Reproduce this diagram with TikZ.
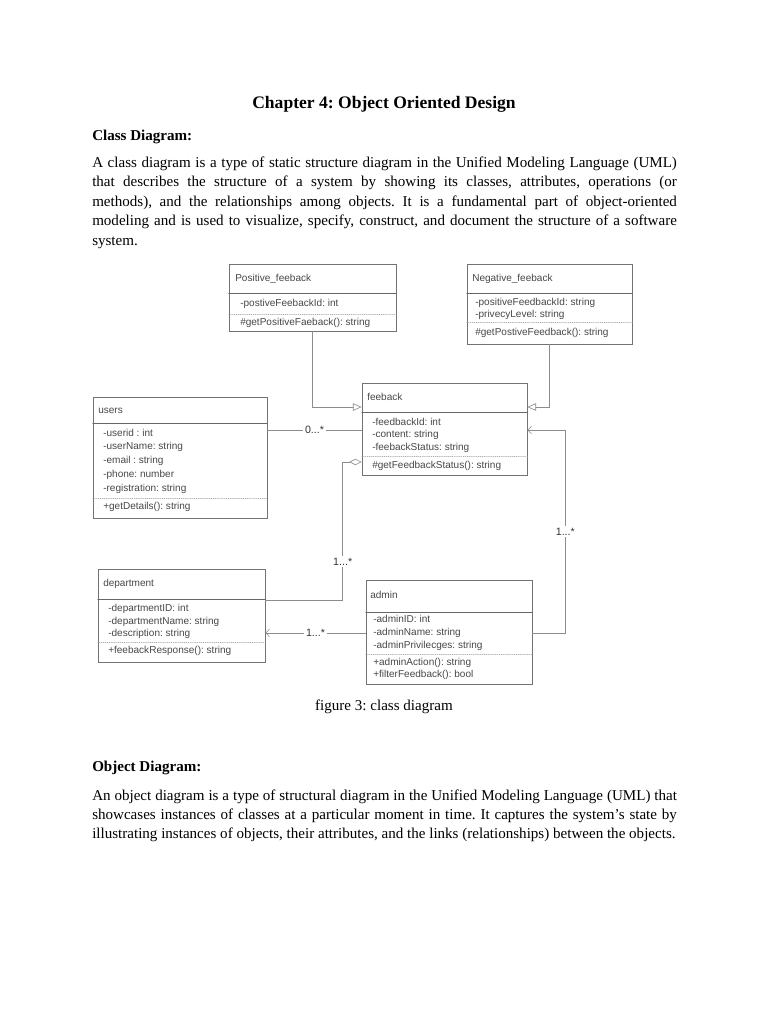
\documentclass[tikz,border=0pt]{standalone}
\usepackage{fontspec}
\setmainfont{Liberation Serif}
\newfontfamily\umlfont{Liberation Sans}
\usetikzlibrary{arrows.meta,fit}
\newcommand\fullline[1]{\makebox[466pt][s]{#1}}
\frenchspacing

\begin{document}
\begin{tikzpicture}[x=0.797pt,y=-0.797pt,line cap=round,
  cls/.style={draw=black!55,inner sep=0pt,line width=0.5pt},
  hdr/.style={draw=black!60,line width=0.5pt},
  sep/.style={draw=black!30,densely dotted,line width=0.5pt},
  uml/.style={anchor=west,inner sep=0pt,font=\umlfont\fontsize{8}{9}\selectfont,text=black!72},
  umlname/.style={uml},
  link/.style={draw=black!45,line width=0.5pt},
  gen/.style={link,-{Triangle[open,length=7pt,width=6pt]}},
  nav/.style={link,-{Straight Barb[length=3pt,width=6pt]}},
  agg/.style={link,{Diamond[open,length=10pt,width=5pt]}-},
  mult/.style={fill=white,inner sep=1.5pt,font=\umlfont\fontsize{8.5}{9}\selectfont,text=black!80},
  body/.style={anchor=base west,inner sep=0pt,font=\fontsize{12}{14}\selectfont}]
\fill[white] (0,0) rectangle (768,1024);
\useasboundingbox (0,0) rectangle (768,1024);

\node[anchor=base,inner sep=0pt,font=\bfseries\fontsize{14}{16}\selectfont] (title) at (384,108) {Chapter 4: Object Oriented Design};
\node[body,font=\bfseries\fontsize{12}{14}\selectfont] (h1) at (92,140) {Class Diagram:};
\node[body] (p1a) at (92,167) {\fullline{A class diagram is a type of static structure diagram in the Unified Modeling Language (UML)}};
\node[body] (p1b) at (92,186.5) {\fullline{that describes the structure of a system by showing its classes, attributes, operations (or}};
\node[body] (p1c) at (92,206) {\fullline{methods), and the relationships among objects. It is a fundamental part of object-oriented}};
\node[body] (p1d) at (92,225.5) {\fullline{modeling and is used to visualize, specify, construct, and document the structure of a software}};
\node[body] (p1e) at (92,245) {system.};

\node[cls,fit={(229,264) (396,331)}] (pos) {};
\draw[hdr] (pos.west |- 0,293) -- (pos.east |- 0,293);
\draw[sep] (pos.west |- 0,314) -- (pos.east |- 0,314);
\node[umlname] (pos-n) at (235,279) {Positive\_feeback};
\node[uml] (pos-a1) at (240,304) {-postiveFeebackId: int};
\node[uml] (pos-m1) at (240,323) {\#getPositiveFaeback(): string};

\node[cls,fit={(467,264) (632,344)}] (neg) {};
\draw[hdr] (neg.west |- 0,293) -- (neg.east |- 0,293);
\draw[sep] (neg.west |- 0,322) -- (neg.east |- 0,322);
\node[umlname] (neg-n) at (472,279) {Negative\_feeback};
\node[uml] (neg-a1) at (475,303) {-positiveFeedbackId: string};
\node[uml] (neg-a2) at (475,315) {-privecyLevel: string};
\node[uml] (neg-m1) at (475,333) {\#getPostiveFeedback(): string};

\node[cls,fit={(362,383) (527,475)}] (fb) {};
\draw[hdr] (fb.west |- 0,412) -- (fb.east |- 0,412);
\draw[sep] (fb.west |- 0,456) -- (fb.east |- 0,456);
\node[umlname] (fb-n) at (367,397) {feeback};
\node[uml] (fb-a1) at (372,422) {-feedbackId: int};
\node[uml] (fb-a2) at (372,435) {-content: string};
\node[uml] (fb-a3) at (372,448) {-feebackStatus: string};
\node[uml] (fb-m1) at (372,466) {\#getFeedbackStatus(): string};

\node[cls,fit={(93,397) (267,518)}] (us) {};
\draw[hdr] (us.west |- 0,423) -- (us.east |- 0,423);
\draw[sep] (us.west |- 0,498) -- (us.east |- 0,498);
\node[umlname] (us-n) at (98,411) {users};
\node[uml] (us-a1) at (103,433) {-userid : int};
\node[uml] (us-a2) at (103,447) {-userName: string};
\node[uml] (us-a3) at (103,461) {-email : string};
\node[uml] (us-a4) at (103,475) {-phone: number};
\node[uml] (us-a5) at (103,489) {-registration: string};
\node[uml] (us-m1) at (103,507) {+getDetails(): string};

\node[cls,fit={(98,569) (265,662)}] (dep) {};
\draw[hdr] (dep.west |- 0,599) -- (dep.east |- 0,599);
\draw[sep] (dep.west |- 0,642) -- (dep.east |- 0,642);
\node[umlname] (dep-n) at (103,584) {department};
\node[uml] (dep-a1) at (108,609) {-departmentID: int};
\node[uml] (dep-a2) at (108,622) {-departmentName: string};
\node[uml] (dep-a3) at (108,634) {-description: string};
\node[uml] (dep-m1) at (108,651) {+feebackResponse(): string};

\node[cls,fit={(366,580) (532,684)}] (ad) {};
\draw[hdr] (ad.west |- 0,612) -- (ad.east |- 0,612);
\draw[sep] (ad.west |- 0,654) -- (ad.east |- 0,654);
\node[umlname] (ad-n) at (370,595) {admin};
\node[uml] (ad-a1) at (373,619) {-adminID: int};
\node[uml] (ad-a2) at (373,633) {-adminName: string};
\node[uml] (ad-a3) at (373,646) {-adminPrivilecges: string};
\node[uml] (ad-m1) at (373,663) {+adminAction(): string};
\node[uml] (ad-m2) at (373,675) {+filterFeedback(): bool};

\draw[gen] (pos.south) |- (fb.west |- 0,407);
\draw[gen] (neg.south) |- (fb.east |- 0,407);
\draw[link] (us.east |- 0,430) -- node[mult]{0...*} (fb.west |- 0,430);
\draw[agg] (fb.west |- 0,462) -- ++(-19,0) -- node[mult,pos=0.72]{1...*} ++(0,138) -- (dep.east |- 0,600);
\draw[nav] (ad.west |- 0,633) -- node[mult]{1...*} (dep.east |- 0,633);
\draw[nav] (ad.east |- 0,633) -- ++(33,0) -- node[mult]{1...*} ++(0,-203) -- (fb.east |- 0,430);

\node[anchor=base,inner sep=0pt,font=\fontsize{12}{14}\selectfont] (cap) at (384,710) {figure 3: class diagram};
\node[body,font=\bfseries\fontsize{12}{14}\selectfont] (h2) at (92,771) {Object Diagram:};
\node[body] (p2a) at (92,800) {\fullline{An object diagram is a type of structural diagram in the Unified Modeling Language (UML) that}};
\node[body] (p2b) at (92,819) {\fullline{showcases instances of classes at a particular moment in time. It captures the system's state by}};
\node[body] (p2c) at (92,838) {illustrating instances of objects, their attributes, and the links (relationships) between the objects.};
\end{tikzpicture}
\end{document}
